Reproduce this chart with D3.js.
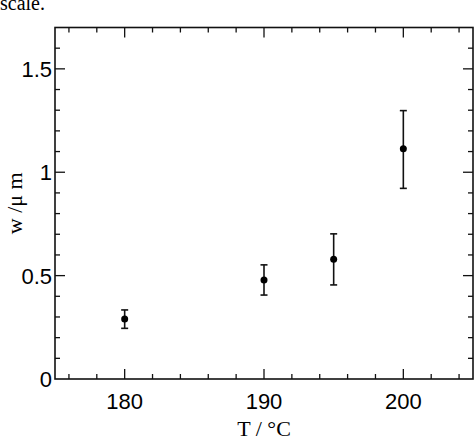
<!DOCTYPE html>
<html><head><meta charset="utf-8">
<script src="https://cdn.jsdelivr.net/npm/d3@7"></script>
<style>body{margin:0;background:#fff}</style>
</head><body><svg id="c" width="474" height="440"></svg>
<script>
const temps = [180, 190, 195, 200];
const widths = [0.29, 0.479, 0.579, 1.113];
const errLow = [0.245, 0.406, 0.455, 0.922];
const errHigh = [0.334, 0.552, 0.702, 1.298];
const xTicks = [180, 190, 200];
const yTicks = [0, 0.5, 1, 1.5];

const svg = d3.select("#c");
const L = 55, R = 473, T = 27.5, B = 379;
const x = d3.scaleLinear().domain([175, 205]).range([L, R]);
const y = d3.scaleLinear().domain([0, 1.7]).range([B, T]);

svg.append("text").attr("x", 0).attr("y", 10)
    .style("font-family", "Liberation Serif").style("font-size", "20px").text("scale.");

const g = svg.append("g").style("stroke", "#111").style("stroke-width", 1.3);
g.append("rect").attr("x", L).attr("y", T).attr("width", R - L).attr("height", B - T).style("fill", "none").style("stroke-width", 1.6);

// ticks inside on all sides
d3.range(176, 205, 2).forEach(v => {
    const len = v % 10 === 0 ? 10 : 5;
    g.append("line").attr("x1", x(v)).attr("x2", x(v)).attr("y1", B).attr("y2", B - len);
    g.append("line").attr("x1", x(v)).attr("x2", x(v)).attr("y1", T).attr("y2", T + len);
});
d3.range(1, 17).forEach(i => {
    const v = i / 10, len = i % 5 === 0 ? 10 : 5;
    g.append("line").attr("x1", L).attr("x2", L + len).attr("y1", y(v)).attr("y2", y(v));
    g.append("line").attr("x1", R).attr("x2", R - len).attr("y1", y(v)).attr("y2", y(v));
});

const tf = "Liberation Sans";
svg.selectAll("text.xt").data(xTicks).enter().append("text")
    .attr("x", d => x(d)).attr("y", B + 30).attr("text-anchor", "middle")
    .style("font-family", tf).style("font-size", "22px").text(d => d);
svg.selectAll("text.yt").data(yTicks).enter().append("text")
    .attr("x", L - 3).attr("y", d => y(d) + 8).attr("text-anchor", "end")
    .style("font-family", tf).style("font-size", "22px").text(d => d);

svg.append("text").attr("x", x(190)).attr("y", 436).attr("text-anchor", "middle")
    .style("font-family", "Liberation Serif").style("font-size", "22px").text("T / °C");
svg.append("text").attr("transform", `translate(22,${y(0.85)}) rotate(-90)`).attr("text-anchor", "middle")
    .style("font-family", "Liberation Serif").style("font-size", "22px").text("w /μ m");

// error bars + points
const eb = svg.append("g").style("stroke", "#111").style("stroke-width", 1.6);
temps.forEach((t, i) => {
    eb.append("line").attr("x1", x(t)).attr("x2", x(t)).attr("y1", y(errLow[i])).attr("y2", y(errHigh[i]));
    [errLow[i], errHigh[i]].forEach(v => eb.append("line")
        .attr("x1", x(t) - 3.5).attr("x2", x(t) + 3.5).attr("y1", y(v)).attr("y2", y(v)));
});
svg.selectAll("circle").data(temps).enter().append("circle")
    .attr("cx", d => x(d)).attr("cy", (d, i) => y(widths[i])).attr("r", 3.5).style("fill", "#000");
</script></body></html>
